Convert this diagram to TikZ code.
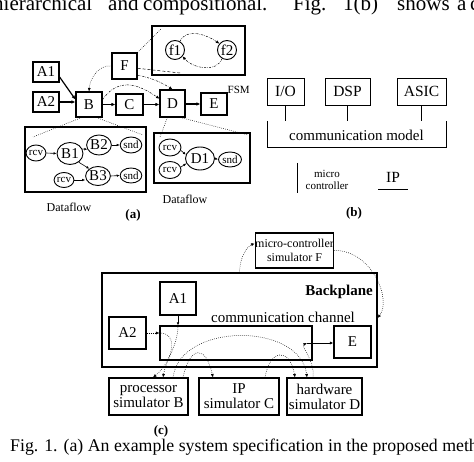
\documentclass[tikz,border=0pt]{standalone}
\usepackage{fontspec}
\setmainfont{Liberation Serif}
\usetikzlibrary{arrows.meta,shapes.geometric}
\newcommand\myfs[1]{\fontsize{#1}{#1}\selectfont}
\tikzset{
 bx/.style={draw,line width=1.1pt,inner sep=0pt,font=\myfs{15}},
 tb/.style={draw,line width=0.7pt,inner sep=0pt,font=\myfs{15.5}},
 el/.style={draw,ellipse,line width=0.9pt,inner sep=0pt,font=\myfs{15}},
 els/.style={el,font=\myfs{11}},
 lbl/.style={inner sep=0pt},
 harr/.style={line width=1.2pt,-{Latex[length=4pt,width=3.5pt]}},
 sarr/.style={line width=0.6pt,-{Latex[length=3pt,width=2.6pt]}},
 tip/.style={-{Latex[length=3.5pt,width=3pt]}},
 dd/.style={line width=0.5pt,dash pattern=on 2pt off 1.2pt on 0.5pt off 1.2pt},
 dt/.style={line width=0.5pt,dash pattern=on 0.7pt off 1.3pt},
 dsh/.style={line width=0.5pt,dash pattern=on 3pt off 2pt},
}
\begin{document}
\begin{tikzpicture}[x=1pt,y=-1pt]
\useasboundingbox (0,0) rectangle (474,462);
% ---- running text (cut by the frame)
\begin{scope}[every node/.style={lbl,anchor=base west,font=\myfs{21}}]
\node (t1) at (-7,10.5) {hierarchical};
\node (t2) at (108,10.5) {and};
\node (t3) at (143,10.5) {compositional.};
\node (t4) at (293,10.5) {Fig.};
\node (t5) at (343,10.5) {1(b)};
\node (t6) at (397,10.5) {shows};
\node (t7) at (457,10.5) {a};
\node (t8) at (470,10.5) {corre};
\node[font=\myfs{17.8}] (cap) at (10,451.5) {Fig. 1. (a) An example system specification in the proposed methodology};
\end{scope}
% ================= (a)
\node[bx,minimum width=26pt,minimum height=20pt] (A1) at (46,72) {A1};
\node[bx,minimum width=26pt,minimum height=20pt] (A2) at (46,102) {A2};
\node[bx,minimum width=26pt,minimum height=25pt] (B) at (89,104.5) {B};
\node[bx,minimum width=27pt,minimum height=21pt] (C) at (129.5,104.5) {C};
\node[bx,minimum width=25pt,minimum height=27pt] (D) at (172.5,103.5) {D};
\node[bx,minimum width=26pt,minimum height=22pt] (E) at (214,104) {E};
\node[bx,minimum width=25pt,minimum height=26pt] (F) at (124.5,66) {F};
\node[bx,minimum width=93pt,minimum height=49pt] (FSMb) at (198.5,50.5) {};
\node[draw,circle,line width=0.9pt,minimum size=19pt,inner sep=0pt,font=\myfs{15}] (f1) at (175,50) {f1};
\node[draw,circle,line width=0.9pt,minimum size=19pt,inner sep=0pt,font=\myfs{15}] (f2) at (227,50) {f2};
\node[lbl,anchor=base west,font=\myfs{11}] (fsm) at (227.5,94) {FSM};
\coordinate (fsmA) at (161,29);
\coordinate (fsmB) at (180,73);
\draw[harr] (A1.-20) -- (B.160);
\draw[harr] (A2.east) -- (B.west |- A2.east);
\draw[harr] (B.east) -- (C.west);
\draw[harr] (C.east) -- (D.west |- C.east);
\draw[harr] (D.east |- E.west) -- (E.west);
\draw[dt,tip] (F.west) to[out=175,in=85] (B.north);
\draw[dd,tip] (B.20) to[out=55,in=145,looseness=1.2] (D.160);
\draw[dd,tip] (F.-35) to[bend left=10] (D.north);
\draw[dt] (F.north east) -- (fsmA);
\draw[dsh] (F.-10) -- (fsmB);
\draw[dd,tip] (f1.60) to[out=65,in=145] (f2.140);
\draw[dd,tip] (f2.240) to[out=-110,in=-50] (f1.-40);
% dataflow B
\node[bx,minimum width=121pt,minimum height=65pt] (DF1) at (85.5,159.5) {};
\coordinate (dfl1) at (33,137);
\coordinate (dfl2) at (143,135);
\draw[dt] (B.-120) -- (dfl1);
\draw[dt] (B.-60) -- (dfl2);
\node[els,minimum width=18pt,minimum height=16pt] (r1) at (36,153) {rcv};
\node[el,minimum width=26pt,minimum height=22pt] (B1) at (70,153.5) {B1};
\node[el,minimum width=24pt,minimum height=20pt] (B2) at (99,145) {B2};
\node[els,minimum width=21pt,minimum height=16pt] (s1) at (131,145) {snd};
\node[els,minimum width=19pt,minimum height=15pt] (r2) at (64,180) {rcv};
\node[el,minimum width=24pt,minimum height=19pt] (B3) at (98,176) {B3};
\node[els,minimum width=21pt,minimum height=15pt] (s2) at (131,175.5) {snd};
\draw[sarr] (r1.east) -- (B1.west);
\draw[sarr] (B1.20) -- (B2.200);
\draw[sarr] (B2.east) -- (s1.west);
\draw[sarr] (B1.-45) -- (B3.140);
\draw[sarr] (r2.east) -- (B3.west |- r2.east);
\draw[sarr] (B3.east) -- (s2.west);
% dataflow D
\node[bx,minimum width=96pt,minimum height=50pt] (DF2) at (202,158) {};
\coordinate (dfr1) at (160,137);
\coordinate (dfr2) at (248,135);
\draw[dt] (D.-110) -- (dfr1);
\draw[dt] (D.-60) -- (dfr2);
\node[els,minimum width=22pt,minimum height=17pt] (r3) at (170,147.5) {rcv};
\node[els,minimum width=22pt,minimum height=17pt] (r4) at (170,170) {rcv};
\node[el,minimum width=29pt,minimum height=23pt] (D1) at (200,158.5) {D1};
\node[els,minimum width=23pt,minimum height=15pt] (s3) at (230,159.5) {snd};
\draw[sarr] (r3.-15) -- (D1.165);
\draw[sarr] (r4.15) -- (D1.200);
\draw[sarr] (D1.east) -- (s3.west);
\node[lbl,font=\myfs{12}] (dfa) at (69,207) {Dataflow};
\node[lbl,font=\myfs{12}] (dfb) at (185,199) {Dataflow};
\node[lbl,font=\bfseries\myfs{13}] (la) at (133,215) {(a)};
% ================= (b)
\node[tb,minimum width=37pt,minimum height=27pt] (IO) at (285.5,91.5) {I/O};
\node[tb,minimum width=45pt,minimum height=27pt] (DSP) at (347.5,91.5) {DSP};
\node[tb,minimum width=49pt,minimum height=27pt] (ASIC) at (421.5,91.5) {ASIC};
\coordinate (cmt) at (356,121);
\draw[line width=0.7pt] (IO.south) -- (IO.south |- cmt);
\draw[line width=0.7pt] (DSP.south) -- (DSP.south |- cmt);
\draw[line width=0.7pt] (ASIC.south) -- (ASIC.south |- cmt);
\draw[line width=0.7pt] (267,121) -- (267,147) -- (446,147) -- (446,121);
\node[lbl,font=\myfs{15}] (cm) at (356.5,135) {communication model};
\draw[line width=0.6pt] (297,163) -- (297,193);
\node[lbl,font=\myfs{11},align=center] (mc) at (327,179.5) {micro\\[1pt]controller};
\node[lbl,font=\myfs{15.5}] (ipb) at (393,177) {IP};
\draw[line width=0.6pt] (378,189) -- (408,189);
\node[lbl,font=\bfseries\myfs{13}] (lb) at (354,213) {(b)};
% ================= (c)
\node[bx,minimum width=75pt,minimum height=35pt,align=center,font=\myfs{12}] (cF) at (294.5,250.5) {micro-controller\\[2pt]simulator F};
\node[bx,minimum width=275pt,minimum height=94pt] (BP) at (239.5,320) {};
\node[lbl,anchor=base east,font=\bfseries\myfs{15}] (bpl) at (373,296) {Backplane};
\node[bx,minimum width=36pt,minimum height=33pt] (cA1) at (178,298.5) {A1};
\node[bx,minimum width=37pt,minimum height=32pt] (cA2) at (127.5,333) {A2};
\node[bx,minimum width=152pt,minimum height=34pt] (CH) at (236,343) {};
\node[lbl,anchor=base,font=\myfs{15}] (chl) at (283,323) {communication channel};
\node[bx,minimum width=37pt,minimum height=32pt] (cE) at (352.5,342) {E};
\node[bx,minimum width=79pt,minimum height=37pt,align=center] (PB) at (148.5,396.5) {processor\\simulator B};
\node[bx,minimum width=80pt,minimum height=37pt,align=center] (PC) at (239,396.5) {IP\\simulator C};
\node[bx,minimum width=75pt,minimum height=37pt,align=center] (PD) at (324.5,396.5) {hardware\\simulator D};
\node[lbl,font=\bfseries\myfs{13}] (lc) at (161,431.5) {(c)};
\coordinate (eo) at (307,343);
\draw[line width=0.7pt,-{Latex[length=3pt,width=2.6pt]}] (cA1.south) -- (cA1.south |- CH.north);
\draw[dt,tip] (cA1.south |- CH.north) .. controls (178,345) and (166,360) .. ([xshift=14.5pt]PB.north);
\draw[dt,tip] (cA2.east) -- (CH.west |- cA2.east);
\draw[dt,tip] (CH.west |- cA2.east) .. controls (180,333) and (172,362) .. ([xshift=4.5pt]PB.north);
\draw[dt,tip] ([xshift=34.5pt]PB.north) .. controls (190,345) and (206,345) .. ([xshift=-26pt]PC.north);
\draw[dt,tip] ([xshift=24.5pt]PB.north) .. controls (180,322) and (300,322) .. ([xshift=-17.5pt]PD.north);
\draw[dt,tip] ([xshift=26pt]PC.north) .. controls (270,348) and (290,348) .. ([xshift=-29.5pt]PD.north);
\draw[dt,tip] ([xshift=-11.5pt]PD.north) .. controls (315,360) and (300,346) .. (eo);
\draw[line width=0.7pt,-{Latex[length=3.5pt,width=3pt]}] (eo) -- (cE.west |- eo);
\draw[dt,tip] (BP.north) .. controls (240,255) and (248,246) .. (cF.170);
\draw[dt,tip] (cF.east) .. controls (372,250) and (392,300) .. ([yshift=2pt]BP.east);
\end{tikzpicture}
\end{document}
